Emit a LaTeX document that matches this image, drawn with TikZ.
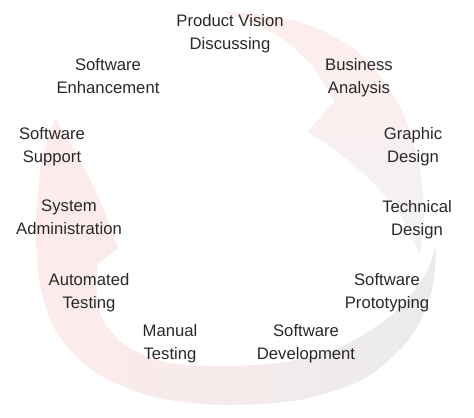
\documentclass[tikz,border=0pt]{standalone}
\usepackage{fontspec}
\setmainfont{Liberation Sans}
\begin{document}
\begin{tikzpicture}[x=0.75pt,y=-0.75pt,
  lbl/.style={anchor=north,align=center,inner sep=0pt,text={rgb,255:red,40;green,40;blue,40},
    font=\fontsize{12.5}{17.3}\selectfont}]
\useasboundingbox (0,0) rectangle (474,417);
% left arrow (tail at right, head at upper left)
\shade[left color=red!8, right color=black!8]
  plot[smooth] coordinates {(55,118) (42,160) (36,220) (40,285) (58,335) (95,372) (150,396) (220,405) (300,400) (365,378) (410,338) (432,290) (436,245)}
  -- plot[smooth] coordinates {(436,245) (425,275) (395,312) (345,345) (285,362) (220,366) (165,362) (125,345) (102,318) (96,285) (98,264)}
  -- (118,248)
  -- plot[smooth] coordinates {(118,248) (108,220) (88,175) (55,118)} -- cycle;
% right arrow (tail at top, head at right)
\shade[top color=red!7, bottom color=black!5]
  plot[smooth] coordinates {(224,11) (300,22) (358,52) (398,103) (418,160) (424,210) (420,255)}
  -- plot[smooth] coordinates {(420,255) (400,215) (370,180) (335,150) (307,132)}
  -- (334,102)
  -- plot[smooth] coordinates {(334,102) (312,66) (278,36) (224,11)} -- cycle;
\node[lbl] (pv) at (230,14) {Product Vision\\Discussing};
\node[lbl] (se) at (108,58) {Software\\Enhancement};
\node[lbl] (ba) at (359,58) {Business\\Analysis};
\node[lbl] (ss) at (52,127) {Software\\Support};
\node[lbl] (gd) at (413,127) {Graphic\\Design};
\node[lbl] (sa) at (69,200) {System\\Administration};
\node[lbl] (td) at (417,200) {Technical\\Design};
\node[lbl] (at) at (89,273) {Automated\\Testing};
\node[lbl] (sp) at (387,273) {Software\\Prototyping};
\node[lbl] (mt) at (170,324) {Manual\\Testing};
\node[lbl] (sd) at (306,324) {Software\\Development};
\end{tikzpicture}
\end{document}
